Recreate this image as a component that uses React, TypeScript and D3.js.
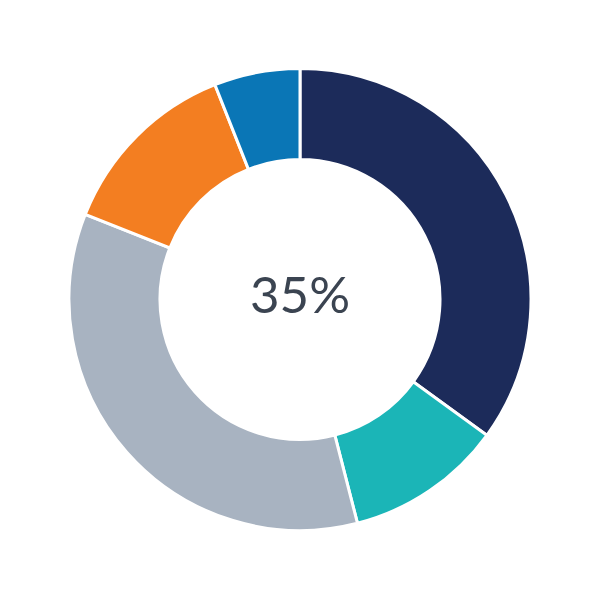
import React from 'react'
import * as d3 from 'd3'

const categories = ['A', 'B', 'C', 'D', 'E']
const values = [35, 11, 35, 13, 6]
const colors = ['#1c2b5a', '#1bb5b7', '#a8b3c1', '#f37e21', '#0a76b6']
const centerLabel = '35%'

export default function App() {
  const width = 600
  const height = 599
  const cx = 300
  const cy = 299.5
  const outerR = 231
  const innerR = 140

  const pie = d3
    .pie<number>()
    .sort(null)
    .value((d) => d)
  const arcs = pie(values)
  const arc = d3.arc<d3.PieArcDatum<number>>().innerRadius(innerR).outerRadius(outerR)

  return (
    <svg
      width={width}
      height={height}
      style={{ position: 'absolute', left: 0, top: 0, background: '#fff' }}
    >
      <g transform={`translate(${cx}, ${cy})`}>
        {arcs.map((a, i) => (
          <path key={categories[i]} d={arc(a) || ''} fill={colors[i]} stroke="#fff" strokeWidth={3} />
        ))}
        <text
          x={0}
          y={13.5}
          textAnchor="middle"
          fontFamily="Lato, 'Open Sans', sans-serif"
          fontWeight={400}
          fontSize={51}
          fill="#3b4451"
        >
          {centerLabel}
        </text>
      </g>
    </svg>
  )
}
